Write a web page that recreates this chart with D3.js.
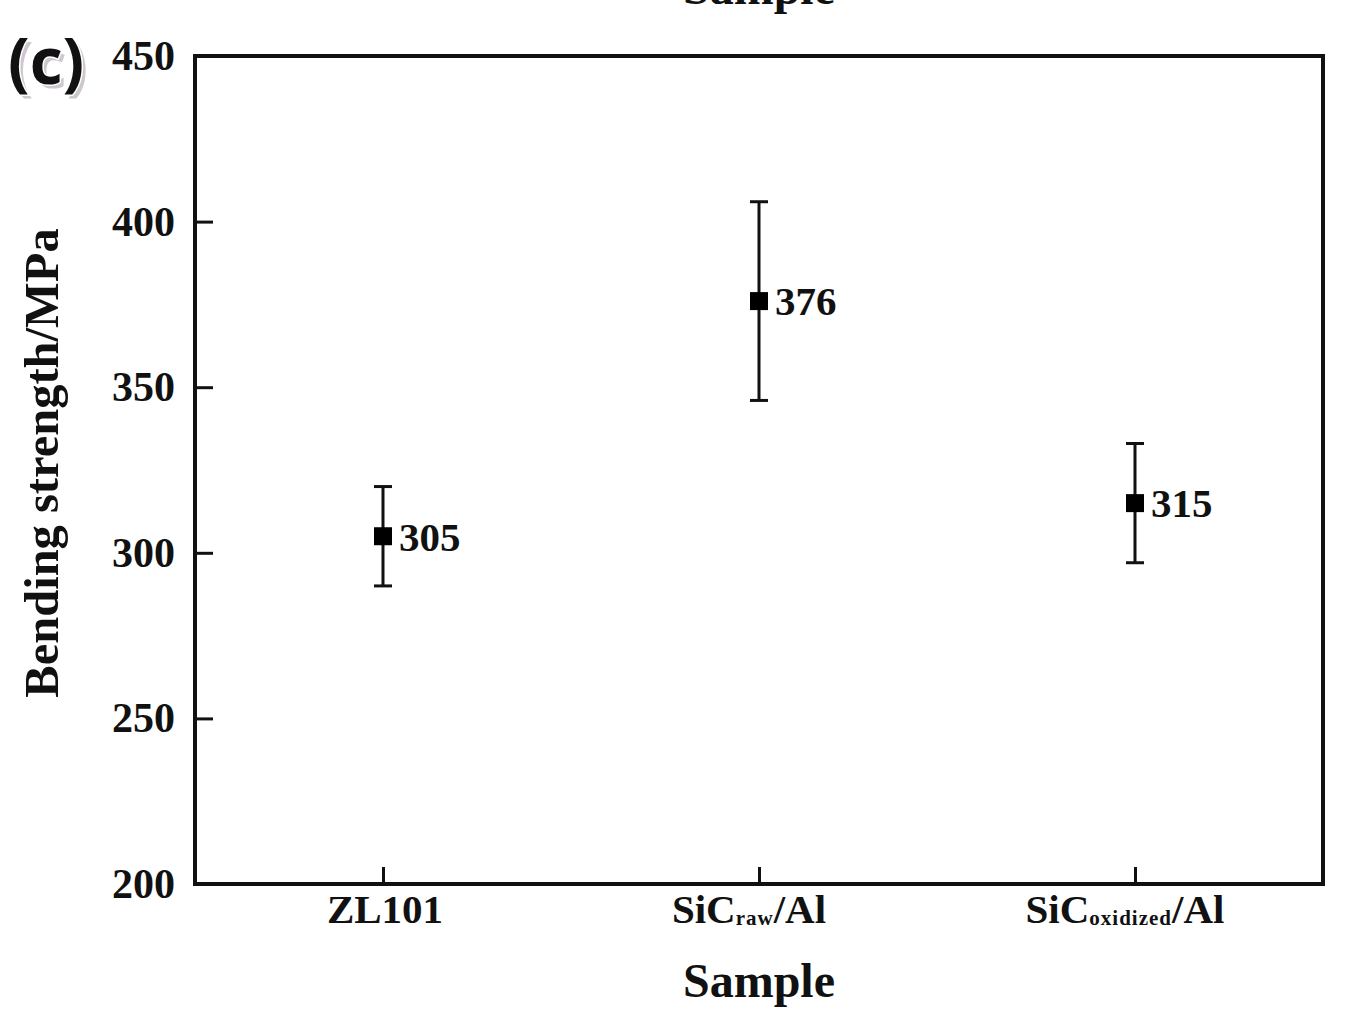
<!DOCTYPE html>
<html><head><meta charset="utf-8">
<script src="https://cdn.jsdelivr.net/npm/d3@7"></script>
<style>body{margin:0;background:#fff}svg{display:block}</style>
</head><body>
<svg id="c" width="1352" height="1026"></svg>
<script>
const categories = ["ZL101", "SiCraw/Al", "SiCoxidized/Al"];
const labelMain = ["ZL101", "SiC", "SiC"];
const labelSub = ["", "raw", "oxidized"];
const labelTail = ["", "/Al", "/Al"];
const values = [305, 376, 315];
const errors = [15, 30, 18];
const yTicks = [200, 250, 300, 350, 400, 450];

const svg = d3.select("#c");
const W = 1352, H = 1026;
const m = {l:195, r:1323, t:56, b:884};
const ink = "#111";
const serif = "'Liberation Serif','Times New Roman',serif";

const x = d3.scalePoint().domain(categories).range([383, 1135]);
const y = d3.scaleLinear().domain([200, 450]).range([m.b, m.t]);

svg.append("rect").attr("width", W).attr("height", H).attr("fill", "#fff");

// axes with inward ticks
const gy = svg.append("g").attr("transform", `translate(${m.l},0)`)
  .call(d3.axisLeft(y).tickValues(yTicks).tickSizeInner(-18).tickSizeOuter(0).tickPadding(20));
gy.select(".domain").remove();
gy.selectAll(".tick line").attr("stroke", ink).attr("stroke-width", 3);
gy.selectAll(".tick text").attr("font-family", serif).attr("font-weight", "bold")
  .attr("font-size", 42).attr("fill", ink).attr("dy", "0.32em").attr("x", -20);

const gx = svg.append("g").attr("transform", `translate(0,${m.b})`)
  .call(d3.axisBottom(x).tickSizeInner(-17).tickSizeOuter(0).tickFormat(""));
gx.select(".domain").remove();
gx.selectAll(".tick line").attr("stroke", ink).attr("stroke-width", 3);

// x category labels with subscripts
categories.forEach((c, i) => {
  const t = svg.append("text").attr("x", x(c) - 10).attr("y", m.b + 39)
    .attr("text-anchor", "middle").attr("font-family", serif).attr("font-weight", "bold")
    .attr("font-size", 41).attr("fill", ink);
  if (i === 0) { t.attr("x", x(c) + 2); }
  t.append("tspan").text(labelMain[i]);
  if (labelSub[i]) t.append("tspan").attr("font-size", 21).attr("dy", 2)
    .attr("letter-spacing", 1).text(labelSub[i]);
  if (labelTail[i]) t.append("tspan").attr("dy", -2).text(labelTail[i]);
});

// frame
svg.append("rect").attr("x", m.l).attr("y", m.t).attr("width", m.r - m.l).attr("height", m.b - m.t)
  .attr("fill", "none").attr("stroke", ink).attr("stroke-width", 4);

// error bars
const g = svg.append("g");
categories.forEach((c, i) => {
  const cx = x(c), lo = y(values[i] - errors[i]), hi = y(values[i] + errors[i]);
  g.append("line").attr("x1", cx).attr("x2", cx).attr("y1", lo).attr("y2", hi)
    .attr("stroke", ink).attr("stroke-width", 3);
  [lo, hi].forEach(yy => g.append("line").attr("x1", cx - 9).attr("x2", cx + 9)
    .attr("y1", yy).attr("y2", yy).attr("stroke", ink).attr("stroke-width", 3));
  g.append("rect").attr("x", cx - 9).attr("y", y(values[i]) - 9).attr("width", 18).attr("height", 18)
    .attr("fill", "#000");
  g.append("text").attr("x", cx + 16).attr("y", y(values[i])).attr("dy", "0.35em")
    .attr("font-family", serif).attr("font-weight", "bold").attr("font-size", 41)
    .attr("fill", ink).text(values[i]);
});

// axis titles
svg.append("text").attr("x", (m.l + m.r) / 2).attr("y", 997).attr("text-anchor", "middle")
  .attr("font-family", serif).attr("font-weight", "bold").attr("font-size", 48).attr("fill", ink)
  .text("Sample");
svg.append("text").attr("x", (m.l + m.r) / 2).attr("y", 4).attr("text-anchor", "middle")
  .attr("font-family", serif).attr("font-weight", "bold").attr("font-size", 48).attr("fill", ink)
  .text("Sample");
svg.append("text").attr("transform", `translate(58,463) rotate(-90)`).attr("text-anchor", "middle")
  .attr("font-family", serif).attr("font-weight", "bold").attr("font-size", 48.5).attr("fill", ink)
  .text("Bending strength/MPa");

// panel label with soft shadow
const pl = svg.append("g");
pl.append("text").attr("x", 12).attr("y", 88).attr("font-family", "'Open Sans',sans-serif")
  .attr("font-weight", "bold").attr("font-size", 64).attr("fill", "#cfc7cf").text("(c)");
pl.append("text").attr("x", 8).attr("y", 84).attr("font-family", "'Open Sans',sans-serif")
  .attr("font-weight", "bold").attr("font-size", 64).attr("fill", "#111")
  .attr("stroke", "#fff").attr("stroke-width", 3).attr("paint-order", "stroke").text("(c)");
</script>
</body></html>
